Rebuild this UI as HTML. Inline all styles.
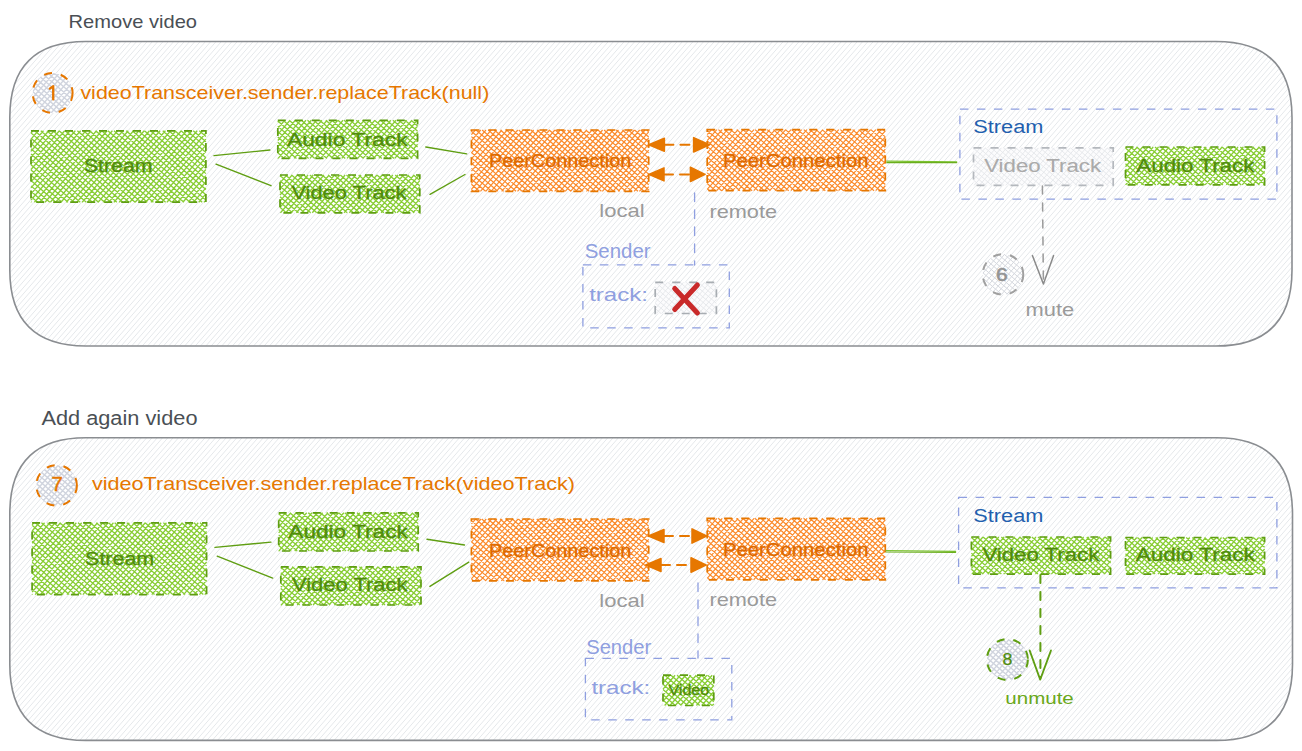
<!DOCTYPE html>
<html><head><meta charset="utf-8"><style>
html,body{margin:0;padding:0;background:#ffffff;width:1302px;height:751px;overflow:hidden;}
svg{display:block;font-family:"Liberation Sans", sans-serif;}
</style></head><body>
<svg width="1302" height="751" viewBox="0 0 1302 751">

<defs><clipPath id="cl0"><path d="M85.80 41.50 L1216.00 41.50 Q1292.00 41.50 1292.00 117.50 L1292.00 270.00 Q1292.00 346.00 1216.00 346.00 L85.80 346.00 Q9.80 346.00 9.80 270.00 L9.80 117.50 Q9.80 41.50 85.80 41.50 Z"/></clipPath><clipPath id="cl1"><circle cx="52.6" cy="93" r="20"/></clipPath><clipPath id="cl2"><circle cx="1003" cy="274.4" r="20.3"/></clipPath><clipPath id="cl3"><path d="M85.80 437.80 L1216.50 437.80 Q1292.50 437.80 1292.50 513.80 L1292.50 664.40 Q1292.50 740.40 1216.50 740.40 L85.80 740.40 Q9.80 740.40 9.80 664.40 L9.80 513.80 Q9.80 437.80 85.80 437.80 Z"/></clipPath><clipPath id="cl4"><circle cx="56.6" cy="485.4" r="20.3"/></clipPath><clipPath id="cl5"><circle cx="1007.4" cy="659.6" r="20.5"/></clipPath></defs>
<text x="68.6" y="27.5" font-size="19" fill="#4a4f55" font-weight="normal" textLength="128.4" lengthAdjust="spacingAndGlyphs">Remove video</text>
<rect x="9.8" y="41.5" width="1282.2" height="304.5" fill="#ffffff" clip-path="url(#cl0)"/>
<path d="M9.80 47.18L14.74 41.50M9.80 53.28L20.04 41.50M9.80 59.38L25.34 41.50M9.80 65.48L30.64 41.50M9.80 71.57L35.94 41.50M9.80 77.67L41.24 41.50M9.80 83.77L46.54 41.50M9.80 89.86L51.84 41.50M9.80 95.96L57.14 41.50M9.80 102.06L62.44 41.50M9.80 108.15L67.74 41.50M9.80 114.25L73.04 41.50M9.80 120.35L78.34 41.50M9.80 126.45L83.64 41.50M9.80 132.54L88.94 41.50M9.80 138.64L94.24 41.50M9.80 144.74L99.54 41.50M9.80 150.83L104.84 41.50M9.80 156.93L110.14 41.50M9.80 163.03L115.44 41.50M9.80 169.12L120.74 41.50M9.80 175.22L126.04 41.50M9.80 181.32L131.34 41.50M9.80 187.42L136.64 41.50M9.80 193.51L141.94 41.50M9.80 199.61L147.24 41.50M9.80 205.71L152.54 41.50M9.80 211.80L157.84 41.50M9.80 217.90L163.14 41.50M9.80 224.00L168.44 41.50M9.80 230.09L173.74 41.50M9.80 236.19L179.04 41.50M9.80 242.29L184.34 41.50M9.80 248.39L189.64 41.50M9.80 254.48L194.94 41.50M9.80 260.58L200.24 41.50M9.80 266.68L205.54 41.50M9.80 272.77L210.84 41.50M9.80 278.87L216.14 41.50M9.80 284.97L221.44 41.50M9.80 291.06L226.74 41.50M9.80 297.16L232.04 41.50M9.80 303.26L237.34 41.50M9.80 309.36L242.64 41.50M9.80 315.45L247.94 41.50M9.80 321.55L253.24 41.50M9.80 327.65L258.54 41.50M9.80 333.74L263.84 41.50M9.80 339.84L269.14 41.50M9.80 345.94L274.44 41.50M15.05 346.00L279.74 41.50M20.35 346.00L285.04 41.50M25.65 346.00L290.34 41.50M30.95 346.00L295.64 41.50M36.25 346.00L300.94 41.50M41.55 346.00L306.24 41.50M46.85 346.00L311.54 41.50M52.15 346.00L316.84 41.50M57.45 346.00L322.14 41.50M62.75 346.00L327.44 41.50M68.05 346.00L332.74 41.50M73.35 346.00L338.04 41.50M78.65 346.00L343.34 41.50M83.95 346.00L348.64 41.50M89.25 346.00L353.94 41.50M94.55 346.00L359.24 41.50M99.85 346.00L364.54 41.50M105.15 346.00L369.84 41.50M110.45 346.00L375.14 41.50M115.75 346.00L380.44 41.50M121.05 346.00L385.75 41.50M126.35 346.00L391.05 41.50M131.65 346.00L396.35 41.50M136.95 346.00L401.65 41.50M142.25 346.00L406.95 41.50M147.55 346.00L412.25 41.50M152.85 346.00L417.55 41.50M158.15 346.00L422.85 41.50M163.45 346.00L428.15 41.50M168.75 346.00L433.45 41.50M174.05 346.00L438.75 41.50M179.35 346.00L444.05 41.50M184.65 346.00L449.35 41.50M189.95 346.00L454.65 41.50M195.25 346.00L459.95 41.50M200.55 346.00L465.25 41.50M205.85 346.00L470.55 41.50M211.15 346.00L475.85 41.50M216.45 346.00L481.15 41.50M221.75 346.00L486.45 41.50M227.05 346.00L491.75 41.50M232.35 346.00L497.05 41.50M237.65 346.00L502.35 41.50M242.95 346.00L507.65 41.50M248.25 346.00L512.95 41.50M253.55 346.00L518.25 41.50M258.85 346.00L523.55 41.50M264.15 346.00L528.85 41.50M269.45 346.00L534.15 41.50M274.75 346.00L539.45 41.50M280.05 346.00L544.75 41.50M285.35 346.00L550.05 41.50M290.65 346.00L555.35 41.50M295.95 346.00L560.65 41.50M301.25 346.00L565.95 41.50M306.55 346.00L571.25 41.50M311.85 346.00L576.55 41.50M317.15 346.00L581.85 41.50M322.45 346.00L587.15 41.50M327.75 346.00L592.45 41.50M333.05 346.00L597.75 41.50M338.35 346.00L603.05 41.50M343.65 346.00L608.35 41.50M348.95 346.00L613.65 41.50M354.25 346.00L618.95 41.50M359.55 346.00L624.25 41.50M364.85 346.00L629.55 41.50M370.15 346.00L634.85 41.50M375.45 346.00L640.15 41.50M380.75 346.00L645.45 41.50M386.05 346.00L650.75 41.50M391.35 346.00L656.05 41.50M396.65 346.00L661.35 41.50M401.95 346.00L666.65 41.50M407.25 346.00L671.95 41.50M412.55 346.00L677.25 41.50M417.85 346.00L682.55 41.50M423.15 346.00L687.85 41.50M428.45 346.00L693.15 41.50M433.75 346.00L698.45 41.50M439.05 346.00L703.75 41.50M444.35 346.00L709.05 41.50M449.65 346.00L714.35 41.50M454.95 346.00L719.65 41.50M460.25 346.00L724.95 41.50M465.55 346.00L730.25 41.50M470.85 346.00L735.55 41.50M476.15 346.00L740.85 41.50M481.45 346.00L746.15 41.50M486.75 346.00L751.45 41.50M492.05 346.00L756.75 41.50M497.35 346.00L762.05 41.50M502.65 346.00L767.35 41.50M507.95 346.00L772.65 41.50M513.25 346.00L777.95 41.50M518.55 346.00L783.25 41.50M523.85 346.00L788.55 41.50M529.15 346.00L793.85 41.50M534.45 346.00L799.15 41.50M539.75 346.00L804.45 41.50M545.05 346.00L809.75 41.50M550.35 346.00L815.05 41.50M555.65 346.00L820.35 41.50M560.95 346.00L825.65 41.50M566.25 346.00L830.95 41.50M571.55 346.00L836.25 41.50M576.85 346.00L841.55 41.50M582.15 346.00L846.85 41.50M587.45 346.00L852.15 41.50M592.75 346.00L857.45 41.50M598.05 346.00L862.75 41.50M603.35 346.00L868.05 41.50M608.65 346.00L873.35 41.50M613.95 346.00L878.65 41.50M619.25 346.00L883.95 41.50M624.55 346.00L889.25 41.50M629.85 346.00L894.55 41.50M635.15 346.00L899.85 41.50M640.45 346.00L905.15 41.50M645.75 346.00L910.45 41.50M651.05 346.00L915.75 41.50M656.35 346.00L921.05 41.50M661.65 346.00L926.35 41.50M666.95 346.00L931.65 41.50M672.25 346.00L936.95 41.50M677.55 346.00L942.25 41.50M682.85 346.00L947.55 41.50M688.15 346.00L952.85 41.50M693.45 346.00L958.15 41.50M698.75 346.00L963.45 41.50M704.05 346.00L968.75 41.50M709.35 346.00L974.05 41.50M714.65 346.00L979.35 41.50M719.95 346.00L984.65 41.50M725.25 346.00L989.95 41.50M730.55 346.00L995.25 41.50M735.85 346.00L1000.55 41.50M741.15 346.00L1005.85 41.50M746.45 346.00L1011.15 41.50M751.75 346.00L1016.45 41.50M757.05 346.00L1021.75 41.50M762.35 346.00L1027.05 41.50M767.65 346.00L1032.35 41.50M772.95 346.00L1037.65 41.50M778.25 346.00L1042.95 41.50M783.55 346.00L1048.25 41.50M788.85 346.00L1053.55 41.50M794.15 346.00L1058.85 41.50M799.45 346.00L1064.15 41.50M804.75 346.00L1069.45 41.50M810.05 346.00L1074.75 41.50M815.35 346.00L1080.05 41.50M820.65 346.00L1085.35 41.50M825.95 346.00L1090.65 41.50M831.25 346.00L1095.95 41.50M836.55 346.00L1101.25 41.50M841.85 346.00L1106.55 41.50M847.15 346.00L1111.85 41.50M852.45 346.00L1117.15 41.50M857.75 346.00L1122.45 41.50M863.05 346.00L1127.75 41.50M868.35 346.00L1133.05 41.50M873.65 346.00L1138.35 41.50M878.95 346.00L1143.65 41.50M884.25 346.00L1148.95 41.50M889.55 346.00L1154.25 41.50M894.85 346.00L1159.55 41.50M900.15 346.00L1164.85 41.50M905.45 346.00L1170.15 41.50M910.75 346.00L1175.45 41.50M916.05 346.00L1180.75 41.50M921.36 346.00L1186.05 41.50M926.66 346.00L1191.35 41.50M931.96 346.00L1196.65 41.50M937.26 346.00L1201.95 41.50M942.56 346.00L1207.25 41.50M947.86 346.00L1212.55 41.50M953.16 346.00L1217.85 41.50M958.46 346.00L1223.15 41.50M963.76 346.00L1228.45 41.50M969.06 346.00L1233.75 41.50M974.36 346.00L1239.05 41.50M979.66 346.00L1244.35 41.50M984.96 346.00L1249.65 41.50M990.26 346.00L1254.95 41.50M995.56 346.00L1260.25 41.50M1000.86 346.00L1265.55 41.50M1006.16 346.00L1270.85 41.50M1011.46 346.00L1276.15 41.50M1016.76 346.00L1281.45 41.50M1022.06 346.00L1286.75 41.50M1027.36 346.00L1292.00 41.56M1032.66 346.00L1292.00 47.66M1037.96 346.00L1292.00 53.76M1043.26 346.00L1292.00 59.85M1048.56 346.00L1292.00 65.95M1053.86 346.00L1292.00 72.05M1059.16 346.00L1292.00 78.14M1064.46 346.00L1292.00 84.24M1069.76 346.00L1292.00 90.34M1075.06 346.00L1292.00 96.44M1080.36 346.00L1292.00 102.53M1085.66 346.00L1292.00 108.63M1090.96 346.00L1292.00 114.73M1096.26 346.00L1292.00 120.82M1101.56 346.00L1292.00 126.92M1106.86 346.00L1292.00 133.02M1112.16 346.00L1292.00 139.11M1117.46 346.00L1292.00 145.21M1122.76 346.00L1292.00 151.31M1128.06 346.00L1292.00 157.41M1133.36 346.00L1292.00 163.50M1138.66 346.00L1292.00 169.60M1143.96 346.00L1292.00 175.70M1149.26 346.00L1292.00 181.79M1154.56 346.00L1292.00 187.89M1159.86 346.00L1292.00 193.99M1165.16 346.00L1292.00 200.08M1170.46 346.00L1292.00 206.18M1175.76 346.00L1292.00 212.28M1181.06 346.00L1292.00 218.38M1186.36 346.00L1292.00 224.47M1191.66 346.00L1292.00 230.57M1196.96 346.00L1292.00 236.67M1202.26 346.00L1292.00 242.76M1207.56 346.00L1292.00 248.86M1212.86 346.00L1292.00 254.96M1218.16 346.00L1292.00 261.05M1223.46 346.00L1292.00 267.15M1228.76 346.00L1292.00 273.25M1234.06 346.00L1292.00 279.35M1239.36 346.00L1292.00 285.44M1244.66 346.00L1292.00 291.54M1249.96 346.00L1292.00 297.64M1255.26 346.00L1292.00 303.73M1260.56 346.00L1292.00 309.83M1265.86 346.00L1292.00 315.93M1271.16 346.00L1292.00 322.02M1276.46 346.00L1292.00 328.12M1281.76 346.00L1292.00 334.22M1287.06 346.00L1292.00 340.32" stroke="#e5e8eb" stroke-width="1.0" fill="none" clip-path="url(#cl0)"/>
<path d="M85.80 41.50 L1216.00 41.50 Q1292.00 41.50 1292.00 117.50 L1292.00 270.00 Q1292.00 346.00 1216.00 346.00 L85.80 346.00 Q9.80 346.00 9.80 270.00 L9.80 117.50 Q9.80 41.50 85.80 41.50 Z" fill="none" stroke="#8a8d91" stroke-width="1.6"/>
<rect x="32.6" y="73.0" width="40.0" height="40.0" fill="#ffffff" clip-path="url(#cl1)"/>
<path d="M32.60 73.33L32.89 73.00M32.60 79.43L38.19 73.00M32.60 85.52L43.49 73.00M32.60 91.62L48.79 73.00M32.60 97.72L54.09 73.00M32.60 103.81L59.39 73.00M32.60 109.91L64.69 73.00M35.21 113.00L69.99 73.00M40.51 113.00L72.60 76.09M45.81 113.00L72.60 82.19M51.11 113.00L72.60 88.28M56.41 113.00L72.60 94.38M61.71 113.00L72.60 100.48M67.01 113.00L72.60 106.57M72.31 113.00L72.60 112.67M72.27 73.00L72.60 73.29M66.17 73.00L72.60 78.59M60.08 73.00L72.60 83.89M53.98 73.00L72.60 89.19M47.88 73.00L72.60 94.49M41.79 73.00L72.60 99.79M35.69 73.00L72.60 105.09M32.60 75.61L72.60 110.39M32.60 80.91L69.51 113.00M32.60 86.21L63.41 113.00M32.60 91.51L57.32 113.00M32.60 96.81L51.22 113.00M32.60 102.11L45.12 113.00M32.60 107.41L39.03 113.00M32.60 112.71L32.93 113.00" stroke="#d0d4de" stroke-width="1.4" fill="none" clip-path="url(#cl1)"/>
<circle cx="52.6" cy="93" r="20" fill="none" stroke="#e67700" stroke-width="2" stroke-dasharray="8 9"/>
<path d="M49.8,88.6 L53.2,86.2 L53.2,99.4" fill="none" stroke="#e67700" stroke-width="2.3" stroke-linecap="round" stroke-linejoin="round"/>
<text x="80.4" y="98.6" font-size="19" fill="#e67700" font-weight="normal" textLength="408.9" lengthAdjust="spacingAndGlyphs">videoTransceiver.sender.replaceTrack(null)</text>
<rect x="31.0" y="130.8" width="174.9" height="71.4" fill="#ffffff"/>
<path d="M31.00 132.97L32.88 130.80M31.00 139.06L38.18 130.80M31.00 145.16L43.48 130.80M31.00 151.26L48.78 130.80M31.00 157.35L54.08 130.80M31.00 163.45L59.38 130.80M31.00 169.55L64.68 130.80M31.00 175.64L69.98 130.80M31.00 181.74L75.28 130.80M31.00 187.84L80.58 130.80M31.00 193.94L85.88 130.80M31.00 200.03L91.18 130.80M34.42 202.20L96.48 130.80M39.72 202.20L101.78 130.80M45.02 202.20L107.08 130.80M50.32 202.20L112.38 130.80M55.62 202.20L117.68 130.80M60.92 202.20L122.98 130.80M66.22 202.20L128.28 130.80M71.52 202.20L133.58 130.80M76.82 202.20L138.88 130.80M82.12 202.20L144.18 130.80M87.42 202.20L149.48 130.80M92.72 202.20L154.78 130.80M98.02 202.20L160.08 130.80M103.32 202.20L165.38 130.80M108.62 202.20L170.68 130.80M113.92 202.20L175.98 130.80M119.22 202.20L181.28 130.80M124.52 202.20L186.58 130.80M129.82 202.20L191.88 130.80M135.12 202.20L197.18 130.80M140.42 202.20L202.48 130.80M145.72 202.20L205.90 132.97M151.02 202.20L205.90 139.06M156.32 202.20L205.90 145.16M161.62 202.20L205.90 151.26M166.92 202.20L205.90 157.36M172.22 202.20L205.90 163.45M177.52 202.20L205.90 169.55M182.82 202.20L205.90 175.65M188.12 202.20L205.90 181.74M193.42 202.20L205.90 187.84M198.72 202.20L205.90 193.94M204.02 202.20L205.90 200.03M205.42 130.80L205.90 131.22M199.32 130.80L205.90 136.52M193.23 130.80L205.90 141.82M187.13 130.80L205.90 147.12M181.03 130.80L205.90 152.42M174.93 130.80L205.90 157.72M168.84 130.80L205.90 163.02M162.74 130.80L205.90 168.32M156.64 130.80L205.90 173.62M150.55 130.80L205.90 178.92M144.45 130.80L205.90 184.22M138.35 130.80L205.90 189.52M132.25 130.80L205.90 194.82M126.16 130.80L205.90 200.12M120.06 130.80L202.20 202.20M113.96 130.80L196.10 202.20M107.87 130.80L190.00 202.20M101.77 130.80L183.91 202.20M95.67 130.80L177.81 202.20M89.58 130.80L171.71 202.20M83.48 130.80L165.62 202.20M77.38 130.80L159.52 202.20M71.28 130.80L153.42 202.20M65.19 130.80L147.32 202.20M59.09 130.80L141.23 202.20M52.99 130.80L135.13 202.20M46.90 130.80L129.03 202.20M40.80 130.80L122.94 202.20M34.70 130.80L116.84 202.20M31.00 132.88L110.74 202.20M31.00 138.18L104.65 202.20M31.00 143.48L98.55 202.20M31.00 148.78L92.45 202.20M31.00 154.08L86.35 202.20M31.00 159.38L80.26 202.20M31.00 164.68L74.16 202.20M31.00 169.98L68.06 202.20M31.00 175.28L61.97 202.20M31.00 180.58L55.87 202.20M31.00 185.88L49.77 202.20M31.00 191.18L43.67 202.20M31.00 196.48L37.58 202.20M31.00 201.78L31.48 202.20" stroke="#88cd34" stroke-width="1.3" fill="none"/>
<rect x="31.0" y="130.8" width="174.9" height="71.4" fill="none" stroke="#5f9e12" stroke-width="1.7" stroke-dasharray="8 9"/>
<text x="83.9" y="171.5" font-size="18" fill="#4f8c0b" font-weight="normal" textLength="68.7" lengthAdjust="spacingAndGlyphs" stroke="#4f8c0b" stroke-width="0.3">Stream</text>
<rect x="277.8" y="120.3" width="139.8" height="38.1" fill="#ffffff"/>
<path d="M277.80 122.21L279.46 120.30M277.80 128.31L284.76 120.30M277.80 134.40L290.06 120.30M277.80 140.50L295.36 120.30M277.80 146.60L300.66 120.30M277.80 152.69L305.96 120.30M278.14 158.40L311.26 120.30M283.44 158.40L316.56 120.30M288.74 158.40L321.86 120.30M294.04 158.40L327.16 120.30M299.34 158.40L332.46 120.30M304.64 158.40L337.76 120.30M309.94 158.40L343.06 120.30M315.24 158.40L348.36 120.30M320.54 158.40L353.66 120.30M325.84 158.40L358.96 120.30M331.14 158.40L364.26 120.30M336.44 158.40L369.56 120.30M341.74 158.40L374.86 120.30M347.04 158.40L380.16 120.30M352.34 158.40L385.46 120.30M357.64 158.40L390.76 120.30M362.94 158.40L396.06 120.30M368.24 158.40L401.36 120.30M373.54 158.40L406.66 120.30M378.84 158.40L411.96 120.30M384.14 158.40L417.26 120.30M389.44 158.40L417.60 126.01M394.74 158.40L417.60 132.10M400.04 158.40L417.60 138.20M405.34 158.40L417.60 144.30M410.64 158.40L417.60 150.39M415.94 158.40L417.60 156.49M417.24 120.30L417.60 120.61M411.14 120.30L417.60 125.91M405.05 120.30L417.60 131.21M398.95 120.30L417.60 136.51M392.85 120.30L417.60 141.81M386.76 120.30L417.60 147.11M380.66 120.30L417.60 152.41M374.56 120.30L417.60 157.71M368.46 120.30L412.29 158.40M362.37 120.30L406.20 158.40M356.27 120.30L400.10 158.40M350.17 120.30L394.00 158.40M344.08 120.30L387.91 158.40M337.98 120.30L381.81 158.40M331.88 120.30L375.71 158.40M325.79 120.30L369.61 158.40M319.69 120.30L363.52 158.40M313.59 120.30L357.42 158.40M307.49 120.30L351.32 158.40M301.40 120.30L345.23 158.40M295.30 120.30L339.13 158.40M289.20 120.30L333.03 158.40M283.11 120.30L326.94 158.40M277.80 120.99L320.84 158.40M277.80 126.29L314.74 158.40M277.80 131.59L308.64 158.40M277.80 136.89L302.55 158.40M277.80 142.19L296.45 158.40M277.80 147.49L290.35 158.40M277.80 152.79L284.26 158.40M277.80 158.09L278.16 158.40" stroke="#88cd34" stroke-width="1.3" fill="none"/>
<rect x="277.8" y="120.3" width="139.8" height="38.1" fill="none" stroke="#5f9e12" stroke-width="1.7" stroke-dasharray="8 9"/>
<text x="286.9" y="145.5" font-size="18" fill="#4f8c0b" font-weight="normal" textLength="120.7" lengthAdjust="spacingAndGlyphs" stroke="#4f8c0b" stroke-width="0.3">Audio Track</text>
<rect x="280.0" y="175.0" width="139.8" height="37.8" fill="#ffffff"/>
<path d="M280.00 176.76L281.53 175.00M280.00 182.86L286.83 175.00M280.00 188.95L292.13 175.00M280.00 195.05L297.43 175.00M280.00 201.15L302.73 175.00M280.00 207.24L308.03 175.00M280.47 212.80L313.33 175.00M285.77 212.80L318.63 175.00M291.07 212.80L323.93 175.00M296.37 212.80L329.23 175.00M301.67 212.80L334.53 175.00M306.97 212.80L339.83 175.00M312.27 212.80L345.13 175.00M317.57 212.80L350.43 175.00M322.87 212.80L355.73 175.00M328.17 212.80L361.03 175.00M333.47 212.80L366.33 175.00M338.77 212.80L371.63 175.00M344.07 212.80L376.93 175.00M349.37 212.80L382.23 175.00M354.67 212.80L387.53 175.00M359.97 212.80L392.83 175.00M365.27 212.80L398.13 175.00M370.57 212.80L403.43 175.00M375.87 212.80L408.73 175.00M381.17 212.80L414.03 175.00M386.47 212.80L419.33 175.00M391.77 212.80L419.80 180.56M397.07 212.80L419.80 186.65M402.37 212.80L419.80 192.75M407.67 212.80L419.80 198.85M412.97 212.80L419.80 204.94M418.27 212.80L419.80 211.04M419.61 175.00L419.80 175.16M413.52 175.00L419.80 180.46M407.42 175.00L419.80 185.76M401.32 175.00L419.80 191.06M395.23 175.00L419.80 196.36M389.13 175.00L419.80 201.66M383.03 175.00L419.80 206.96M376.93 175.00L419.80 212.26M370.84 175.00L414.32 212.80M364.74 175.00L408.22 212.80M358.64 175.00L402.13 212.80M352.55 175.00L396.03 212.80M346.45 175.00L389.93 212.80M340.35 175.00L383.84 212.80M334.26 175.00L377.74 212.80M328.16 175.00L371.64 212.80M322.06 175.00L365.54 212.80M315.96 175.00L359.45 212.80M309.87 175.00L353.35 212.80M303.77 175.00L347.25 212.80M297.67 175.00L341.16 212.80M291.58 175.00L335.06 212.80M285.48 175.00L328.96 212.80M280.00 175.54L322.87 212.80M280.00 180.84L316.77 212.80M280.00 186.14L310.67 212.80M280.00 191.44L304.57 212.80M280.00 196.74L298.48 212.80M280.00 202.04L292.38 212.80M280.00 207.34L286.28 212.80M280.00 212.64L280.19 212.80" stroke="#88cd34" stroke-width="1.3" fill="none"/>
<rect x="280.0" y="175.0" width="139.8" height="37.8" fill="none" stroke="#5f9e12" stroke-width="1.7" stroke-dasharray="8 9"/>
<text x="291.4" y="199.2" font-size="18" fill="#4f8c0b" font-weight="normal" textLength="115.1" lengthAdjust="spacingAndGlyphs" stroke="#4f8c0b" stroke-width="0.3">Video Track</text>
<line x1="214.0" y1="155.6" x2="269.9" y2="150.0" stroke="#5f9e12" stroke-width="1.4" stroke-linecap="round"/>
<line x1="216.0" y1="164.2" x2="271.0" y2="185.7" stroke="#5f9e12" stroke-width="1.4" stroke-linecap="round"/>
<line x1="425.8" y1="147.0" x2="466.7" y2="153.9" stroke="#5f9e12" stroke-width="1.4" stroke-linecap="round"/>
<line x1="430.0" y1="194.3" x2="465.0" y2="174.5" stroke="#5f9e12" stroke-width="1.4" stroke-linecap="round"/>
<rect x="471.4" y="130.0" width="177.3" height="61.3" fill="#ffffff"/>
<path d="M471.40 134.59L475.39 130.00M471.40 140.69L480.69 130.00M471.40 146.79L485.99 130.00M471.40 152.88L491.29 130.00M471.40 158.98L496.59 130.00M471.40 165.08L501.89 130.00M471.40 171.17L507.19 130.00M471.40 177.27L512.49 130.00M471.40 183.37L517.79 130.00M471.40 189.47L523.09 130.00M475.11 191.30L528.39 130.00M480.41 191.30L533.69 130.00M485.71 191.30L538.99 130.00M491.01 191.30L544.29 130.00M496.31 191.30L549.59 130.00M501.61 191.30L554.89 130.00M506.91 191.30L560.19 130.00M512.21 191.30L565.49 130.00M517.51 191.30L570.79 130.00M522.81 191.30L576.09 130.00M528.11 191.30L581.39 130.00M533.41 191.30L586.69 130.00M538.71 191.30L591.99 130.00M544.01 191.30L597.29 130.00M549.31 191.30L602.59 130.00M554.61 191.30L607.89 130.00M559.91 191.30L613.19 130.00M565.21 191.30L618.49 130.00M570.51 191.30L623.79 130.00M575.81 191.30L629.09 130.00M581.11 191.30L634.39 130.00M586.41 191.30L639.69 130.00M591.71 191.30L644.99 130.00M597.01 191.30L648.70 131.83M602.31 191.30L648.70 137.93M607.61 191.30L648.70 144.03M612.91 191.30L648.70 150.13M618.21 191.30L648.70 156.22M623.51 191.30L648.70 162.32M628.81 191.30L648.70 168.42M634.11 191.30L648.70 174.51M639.41 191.30L648.70 180.61M644.71 191.30L648.70 186.71M646.73 130.00L648.70 131.71M640.63 130.00L648.70 137.01M634.54 130.00L648.70 142.31M628.44 130.00L648.70 147.61M622.34 130.00L648.70 152.91M616.25 130.00L648.70 158.21M610.15 130.00L648.70 163.51M604.05 130.00L648.70 168.81M597.96 130.00L648.70 174.11M591.86 130.00L648.70 179.41M585.76 130.00L648.70 184.71M579.66 130.00L648.70 190.01M573.57 130.00L644.08 191.30M567.47 130.00L637.99 191.30M561.37 130.00L631.89 191.30M555.28 130.00L625.79 191.30M549.18 130.00L619.70 191.30M543.08 130.00L613.60 191.30M536.99 130.00L607.50 191.30M530.89 130.00L601.41 191.30M524.79 130.00L595.31 191.30M518.69 130.00L589.21 191.30M512.60 130.00L583.11 191.30M506.50 130.00L577.02 191.30M500.40 130.00L570.92 191.30M494.31 130.00L564.82 191.30M488.21 130.00L558.73 191.30M482.11 130.00L552.63 191.30M476.02 130.00L546.53 191.30M471.40 131.29L540.44 191.30M471.40 136.59L534.34 191.30M471.40 141.89L528.24 191.30M471.40 147.19L522.14 191.30M471.40 152.49L516.05 191.30M471.40 157.79L509.95 191.30M471.40 163.09L503.85 191.30M471.40 168.39L497.76 191.30M471.40 173.69L491.66 191.30M471.40 178.99L485.56 191.30M471.40 184.29L479.47 191.30M471.40 189.59L473.37 191.30" stroke="#fb8b2c" stroke-width="1.2" fill="none"/>
<rect x="471.4" y="130.0" width="177.3" height="61.3" fill="none" stroke="#e67700" stroke-width="1.7" stroke-dasharray="8 9"/>
<text x="488.9" y="166.5" font-size="18.5" fill="#de6a00" font-weight="normal" textLength="142.4" lengthAdjust="spacingAndGlyphs" stroke="#de6a00" stroke-width="0.3">PeerConnection</text>
<rect x="707.2" y="129.6" width="178.1" height="61.1" fill="#ffffff"/>
<path d="M707.20 134.55L711.51 129.60M707.20 140.65L716.81 129.60M707.20 146.75L722.11 129.60M707.20 152.84L727.41 129.60M707.20 158.94L732.71 129.60M707.20 165.04L738.01 129.60M707.20 171.14L743.31 129.60M707.20 177.23L748.61 129.60M707.20 183.33L753.91 129.60M707.20 189.43L759.21 129.60M711.39 190.70L764.51 129.60M716.69 190.70L769.81 129.60M721.99 190.70L775.11 129.60M727.29 190.70L780.41 129.60M732.59 190.70L785.71 129.60M737.89 190.70L791.01 129.60M743.19 190.70L796.31 129.60M748.49 190.70L801.61 129.60M753.79 190.70L806.91 129.60M759.09 190.70L812.21 129.60M764.39 190.70L817.51 129.60M769.69 190.70L822.81 129.60M774.99 190.70L828.11 129.60M780.29 190.70L833.41 129.60M785.59 190.70L838.71 129.60M790.89 190.70L844.01 129.60M796.19 190.70L849.31 129.60M801.49 190.70L854.61 129.60M806.79 190.70L859.91 129.60M812.09 190.70L865.21 129.60M817.39 190.70L870.51 129.60M822.69 190.70L875.81 129.60M827.99 190.70L881.11 129.60M833.29 190.70L885.30 130.87M838.59 190.70L885.30 136.97M843.89 190.70L885.30 143.07M849.19 190.70L885.30 149.16M854.49 190.70L885.30 155.26M859.79 190.70L885.30 161.36M865.09 190.70L885.30 167.46M870.39 190.70L885.30 173.55M875.69 190.70L885.30 179.65M880.99 190.70L885.30 185.75M883.05 129.60L885.30 131.56M876.95 129.60L885.30 136.86M870.85 129.60L885.30 142.16M864.76 129.60L885.30 147.46M858.66 129.60L885.30 152.76M852.56 129.60L885.30 158.06M846.46 129.60L885.30 163.36M840.37 129.60L885.30 168.66M834.27 129.60L885.30 173.96M828.17 129.60L885.30 179.26M822.08 129.60L885.30 184.56M815.98 129.60L885.30 189.86M809.88 129.60L880.17 190.70M803.79 129.60L874.07 190.70M797.69 129.60L867.98 190.70M791.59 129.60L861.88 190.70M785.49 129.60L855.78 190.70M779.40 129.60L849.68 190.70M773.30 129.60L843.59 190.70M767.20 129.60L837.49 190.70M761.11 129.60L831.39 190.70M755.01 129.60L825.30 190.70M748.91 129.60L819.20 190.70M742.82 129.60L813.10 190.70M736.72 129.60L807.01 190.70M730.62 129.60L800.91 190.70M724.52 129.60L794.81 190.70M718.43 129.60L788.71 190.70M712.33 129.60L782.62 190.70M707.20 130.44L776.52 190.70M707.20 135.74L770.42 190.70M707.20 141.04L764.33 190.70M707.20 146.34L758.23 190.70M707.20 151.64L752.13 190.70M707.20 156.94L746.04 190.70M707.20 162.24L739.94 190.70M707.20 167.54L733.84 190.70M707.20 172.84L727.74 190.70M707.20 178.14L721.65 190.70M707.20 183.44L715.55 190.70M707.20 188.74L709.45 190.70" stroke="#fb8b2c" stroke-width="1.2" fill="none"/>
<rect x="707.2" y="129.6" width="178.1" height="61.1" fill="none" stroke="#e67700" stroke-width="1.7" stroke-dasharray="8 9"/>
<text x="723.0" y="166.6" font-size="18.5" fill="#de6a00" font-weight="normal" textLength="145.5" lengthAdjust="spacingAndGlyphs" stroke="#de6a00" stroke-width="0.3">PeerConnection</text>
<line x1="664.4" y1="144.8" x2="693.6" y2="144.8" stroke="#e67700" stroke-width="2" stroke-linecap="round" stroke-dasharray="9 7"/>
<path d="M648.8,144.8 L664.4,138.3 L664.4,151.3 Z" fill="#e67700" stroke="#e67700" stroke-width="1.5" stroke-linejoin="round"/>
<path d="M709.5,144.8 L693.6,137.6 L693.6,152.0 Z" fill="#e67700" stroke="#e67700" stroke-width="1.5" stroke-linejoin="round"/>
<line x1="664.0" y1="174.4" x2="690.4" y2="174.4" stroke="#e67700" stroke-width="2" stroke-linecap="round" stroke-dasharray="9 7"/>
<path d="M648.8,174.4 L664.0,167.9 L664.0,180.9 Z" fill="#e67700" stroke="#e67700" stroke-width="1.5" stroke-linejoin="round"/>
<path d="M705.1,174.4 L690.4,167.2 L690.4,181.6 Z" fill="#e67700" stroke="#e67700" stroke-width="1.5" stroke-linejoin="round"/>
<text x="599.3" y="216.8" font-size="19" fill="#9a9a9a" font-weight="normal" textLength="45.3" lengthAdjust="spacingAndGlyphs">local</text>
<text x="709.4" y="217.8" font-size="19" fill="#9a9a9a" font-weight="normal" textLength="67.7" lengthAdjust="spacingAndGlyphs">remote</text>
<line x1="694.6" y1="193.0" x2="694.6" y2="265.0" stroke="#8f9fe0" stroke-width="1.3" stroke-linecap="round" stroke-dasharray="8.5 8.5"/>
<line x1="886.8" y1="161.2" x2="956.7" y2="161.9" stroke="#7cc230" stroke-width="1.2" stroke-linecap="round"/>
<line x1="886.8" y1="162.7" x2="956.7" y2="162.6" stroke="#6aae1c" stroke-width="1.2" stroke-linecap="round"/>
<rect x="959.9" y="109.2" width="317.0" height="90.0" fill="none" stroke="#8f9fe0" stroke-width="1.3" stroke-dasharray="8.5 8.5"/>
<text x="973.3" y="133.4" font-size="18" fill="#1f5fae" font-weight="normal" textLength="70.1" lengthAdjust="spacingAndGlyphs">Stream</text>
<rect x="973.5" y="147.8" width="139.7" height="37.6" fill="#fcfcfd"/>
<path d="M973.50 149.40L974.89 147.80M973.50 155.50L980.19 147.80M973.50 161.60L985.49 147.80M973.50 167.69L990.79 147.80M973.50 173.79L996.09 147.80M973.50 179.89L1001.39 147.80M974.01 185.40L1006.69 147.80M979.31 185.40L1011.99 147.80M984.61 185.40L1017.29 147.80M989.91 185.40L1022.59 147.80M995.21 185.40L1027.89 147.80M1000.51 185.40L1033.19 147.80M1005.81 185.40L1038.49 147.80M1011.11 185.40L1043.79 147.80M1016.41 185.40L1049.09 147.80M1021.71 185.40L1054.39 147.80M1027.01 185.40L1059.69 147.80M1032.31 185.40L1064.99 147.80M1037.61 185.40L1070.29 147.80M1042.91 185.40L1075.59 147.80M1048.21 185.40L1080.89 147.80M1053.51 185.40L1086.19 147.80M1058.81 185.40L1091.49 147.80M1064.11 185.40L1096.79 147.80M1069.41 185.40L1102.09 147.80M1074.71 185.40L1107.39 147.80M1080.01 185.40L1112.69 147.80M1085.31 185.40L1113.20 153.31M1090.61 185.40L1113.20 159.41M1095.91 185.40L1113.20 165.51M1101.21 185.40L1113.20 171.60M1106.51 185.40L1113.20 177.70M1111.81 185.40L1113.20 183.80M1113.18 147.80L1113.20 147.82M1107.08 147.80L1113.20 153.12M1100.98 147.80L1113.20 158.42M1094.89 147.80L1113.20 163.72M1088.79 147.80L1113.20 169.02M1082.69 147.80L1113.20 174.32M1076.60 147.80L1113.20 179.62M1070.50 147.80L1113.20 184.92M1064.40 147.80L1107.66 185.40M1058.31 147.80L1101.56 185.40M1052.21 147.80L1095.46 185.40M1046.11 147.80L1089.36 185.40M1040.01 147.80L1083.27 185.40M1033.92 147.80L1077.17 185.40M1027.82 147.80L1071.07 185.40M1021.72 147.80L1064.98 185.40M1015.63 147.80L1058.88 185.40M1009.53 147.80L1052.78 185.40M1003.43 147.80L1046.69 185.40M997.34 147.80L1040.59 185.40M991.24 147.80L1034.49 185.40M985.14 147.80L1028.39 185.40M979.04 147.80L1022.30 185.40M973.50 148.28L1016.20 185.40M973.50 153.58L1010.10 185.40M973.50 158.88L1004.01 185.40M973.50 164.18L997.91 185.40M973.50 169.48L991.81 185.40M973.50 174.78L985.72 185.40M973.50 180.08L979.62 185.40M973.50 185.38L973.52 185.40" stroke="#e4e6ea" stroke-width="0.9" fill="none"/>
<rect x="973.5" y="147.8" width="139.7" height="37.6" fill="none" stroke="#b4b8bd" stroke-width="1.7" stroke-dasharray="8 9"/>
<text x="984.2" y="171.8" font-size="18" fill="#aaaaaa" font-weight="normal" textLength="116.9" lengthAdjust="spacingAndGlyphs" stroke="#aaaaaa" stroke-width="0.1">Video Track</text>
<rect x="1125.5" y="147.0" width="139.1" height="37.9" fill="#ffffff"/>
<path d="M1125.50 148.41L1126.72 147.00M1125.50 154.50L1132.02 147.00M1125.50 160.60L1137.32 147.00M1125.50 166.70L1142.62 147.00M1125.50 172.79L1147.92 147.00M1125.50 178.89L1153.22 147.00M1125.58 184.90L1158.52 147.00M1130.88 184.90L1163.82 147.00M1136.18 184.90L1169.12 147.00M1141.48 184.90L1174.42 147.00M1146.78 184.90L1179.72 147.00M1152.08 184.90L1185.02 147.00M1157.38 184.90L1190.32 147.00M1162.68 184.90L1195.62 147.00M1167.98 184.90L1200.92 147.00M1173.28 184.90L1206.22 147.00M1178.58 184.90L1211.52 147.00M1183.88 184.90L1216.82 147.00M1189.18 184.90L1222.12 147.00M1194.48 184.90L1227.42 147.00M1199.78 184.90L1232.72 147.00M1205.08 184.90L1238.02 147.00M1210.38 184.90L1243.32 147.00M1215.68 184.90L1248.62 147.00M1220.98 184.90L1253.92 147.00M1226.28 184.90L1259.22 147.00M1231.58 184.90L1264.52 147.00M1236.88 184.90L1264.60 153.01M1242.18 184.90L1264.60 159.11M1247.48 184.90L1264.60 165.20M1252.78 184.90L1264.60 171.30M1258.08 184.90L1264.60 177.40M1263.38 184.90L1264.60 183.49M1258.61 147.00L1264.60 152.21M1252.51 147.00L1264.60 157.51M1246.41 147.00L1264.60 162.81M1240.32 147.00L1264.60 168.11M1234.22 147.00L1264.60 173.41M1228.12 147.00L1264.60 178.71M1222.03 147.00L1264.60 184.01M1215.93 147.00L1259.53 184.90M1209.83 147.00L1253.43 184.90M1203.74 147.00L1247.33 184.90M1197.64 147.00L1241.24 184.90M1191.54 147.00L1235.14 184.90M1185.44 147.00L1229.04 184.90M1179.35 147.00L1222.95 184.90M1173.25 147.00L1216.85 184.90M1167.15 147.00L1210.75 184.90M1161.06 147.00L1204.66 184.90M1154.96 147.00L1198.56 184.90M1148.86 147.00L1192.46 184.90M1142.77 147.00L1186.36 184.90M1136.67 147.00L1180.27 184.90M1130.57 147.00L1174.17 184.90M1125.50 147.89L1168.07 184.90M1125.50 153.19L1161.98 184.90M1125.50 158.49L1155.88 184.90M1125.50 163.79L1149.78 184.90M1125.50 169.09L1143.69 184.90M1125.50 174.39L1137.59 184.90M1125.50 179.69L1131.49 184.90" stroke="#88cd34" stroke-width="1.3" fill="none"/>
<rect x="1125.5" y="147.0" width="139.1" height="37.9" fill="none" stroke="#5f9e12" stroke-width="1.7" stroke-dasharray="8 9"/>
<text x="1136.3" y="171.8" font-size="18" fill="#4f8c0b" font-weight="normal" textLength="118.1" lengthAdjust="spacingAndGlyphs" stroke="#4f8c0b" stroke-width="0.3">Audio Track</text>
<line x1="1042.4" y1="186.0" x2="1043.4" y2="283.0" stroke="#9a9a9a" stroke-width="1.5" stroke-linecap="round" stroke-dasharray="8 9"/>
<path d="M1032.4,255.6 L1043.4,284 L1053.6,255.6" fill="none" stroke="#8a8a8a" stroke-width="1.5" stroke-linecap="round" stroke-linejoin="round"/>
<rect x="982.7" y="254.1" width="40.6" height="40.6" fill="#ffffff" clip-path="url(#cl2)"/>
<path d="M982.70 255.07L983.55 254.10M982.70 261.17L988.85 254.10M982.70 267.27L994.15 254.10M982.70 273.36L999.45 254.10M982.70 279.46L1004.75 254.10M982.70 285.56L1010.05 254.10M982.70 291.66L1015.35 254.10M985.35 294.70L1020.65 254.10M990.65 294.70L1023.30 257.14M995.95 294.70L1023.30 263.24M1001.25 294.70L1023.30 269.34M1006.55 294.70L1023.30 275.44M1011.85 294.70L1023.30 281.53M1017.15 294.70L1023.30 287.63M1022.45 294.70L1023.30 293.73M1022.33 254.10L1023.30 254.95M1016.23 254.10L1023.30 260.25M1010.13 254.10L1023.30 265.55M1004.04 254.10L1023.30 270.85M997.94 254.10L1023.30 276.15M991.84 254.10L1023.30 281.45M985.74 254.10L1023.30 286.75M982.70 256.75L1023.30 292.05M982.70 262.05L1020.26 294.70M982.70 267.35L1014.16 294.70M982.70 272.65L1008.06 294.70M982.70 277.95L1001.96 294.70M982.70 283.25L995.87 294.70M982.70 288.55L989.77 294.70M982.70 293.85L983.67 294.70" stroke="#d5d8de" stroke-width="1.0" fill="none" clip-path="url(#cl2)"/>
<circle cx="1003" cy="274.4" r="20.3" fill="none" stroke="#a0a0a0" stroke-width="2" stroke-dasharray="8 9"/>
<text x="996.1" y="281.0" font-size="19" fill="#949494" font-weight="normal" textLength="11.7" lengthAdjust="spacingAndGlyphs" stroke="#949494" stroke-width="0.6">6</text>
<text x="1025.6" y="316.0" font-size="19" fill="#9a9a9a" font-weight="normal" textLength="48.7" lengthAdjust="spacingAndGlyphs">mute</text>
<rect x="582.9" y="264.8" width="146.4" height="63.0" fill="none" stroke="#8f9fe0" stroke-width="1.3" stroke-dasharray="8.5 8.5"/>
<text x="584.7" y="257.8" font-size="20" fill="#8f9fe0" font-weight="normal" textLength="65.9" lengthAdjust="spacingAndGlyphs">Sender</text>
<text x="589.2" y="301.0" font-size="19" fill="#8f9fe0" font-weight="normal" textLength="58.8" lengthAdjust="spacingAndGlyphs">track:</text>
<rect x="655.2" y="282.4" width="61.2" height="31.1" fill="#fcfcfd"/>
<path d="M655.20 284.38L656.92 282.40M655.20 290.47L662.22 282.40M655.20 296.57L667.52 282.40M655.20 302.67L672.82 282.40M655.20 308.76L678.12 282.40M656.38 313.50L683.42 282.40M661.68 313.50L688.72 282.40M666.98 313.50L694.02 282.40M672.28 313.50L699.32 282.40M677.58 313.50L704.62 282.40M682.88 313.50L709.92 282.40M688.18 313.50L715.22 282.40M693.48 313.50L716.40 287.14M698.78 313.50L716.40 293.23M704.08 313.50L716.40 299.33M709.38 313.50L716.40 305.43M714.68 313.50L716.40 311.52M710.59 282.40L716.40 287.45M704.49 282.40L716.40 292.75M698.40 282.40L716.40 298.05M692.30 282.40L716.40 303.35M686.20 282.40L716.40 308.65M680.11 282.40L715.88 313.50M674.01 282.40L709.79 313.50M667.91 282.40L703.69 313.50M661.81 282.40L697.59 313.50M655.72 282.40L691.49 313.50M655.20 287.25L685.40 313.50M655.20 292.55L679.30 313.50M655.20 297.85L673.20 313.50M655.20 303.15L667.11 313.50M655.20 308.45L661.01 313.50" stroke="#e4e6ea" stroke-width="0.9" fill="none"/>
<rect x="655.2" y="282.4" width="61.2" height="31.1" fill="none" stroke="#a8adb2" stroke-width="1.7" stroke-dasharray="8 9"/>
<path d="M674.7,288.5 L697.4,313" stroke="#c92a2a" stroke-width="5" stroke-linecap="round" fill="none"/>
<path d="M697.4,285 L674.7,309.5" stroke="#c92a2a" stroke-width="5" stroke-linecap="round" fill="none"/>
<text x="41.4" y="425.4" font-size="20" fill="#4a4f55" font-weight="normal" textLength="156.1" lengthAdjust="spacingAndGlyphs">Add again video</text>
<rect x="9.8" y="437.8" width="1282.7" height="302.6" fill="#ffffff" clip-path="url(#cl3)"/>
<path d="M9.80 442.82L14.17 437.80M9.80 448.92L19.47 437.80M9.80 455.02L24.77 437.80M9.80 461.11L30.07 437.80M9.80 467.21L35.37 437.80M9.80 473.31L40.67 437.80M9.80 479.40L45.97 437.80M9.80 485.50L51.27 437.80M9.80 491.60L56.57 437.80M9.80 497.70L61.87 437.80M9.80 503.79L67.17 437.80M9.80 509.89L72.47 437.80M9.80 515.99L77.77 437.80M9.80 522.08L83.07 437.80M9.80 528.18L88.37 437.80M9.80 534.28L93.67 437.80M9.80 540.37L98.97 437.80M9.80 546.47L104.27 437.80M9.80 552.57L109.57 437.80M9.80 558.67L114.87 437.80M9.80 564.76L120.17 437.80M9.80 570.86L125.47 437.80M9.80 576.96L130.77 437.80M9.80 583.05L136.07 437.80M9.80 589.15L141.37 437.80M9.80 595.25L146.67 437.80M9.80 601.34L151.97 437.80M9.80 607.44L157.27 437.80M9.80 613.54L162.57 437.80M9.80 619.64L167.87 437.80M9.80 625.73L173.17 437.80M9.80 631.83L178.47 437.80M9.80 637.93L183.77 437.80M9.80 644.02L189.07 437.80M9.80 650.12L194.37 437.80M9.80 656.22L199.67 437.80M9.80 662.31L204.97 437.80M9.80 668.41L210.27 437.80M9.80 674.51L215.57 437.80M9.80 680.61L220.87 437.80M9.80 686.70L226.17 437.80M9.80 692.80L231.47 437.80M9.80 698.90L236.77 437.80M9.80 704.99L242.07 437.80M9.80 711.09L247.37 437.80M9.80 717.19L252.67 437.80M9.80 723.28L257.97 437.80M9.80 729.38L263.27 437.80M9.80 735.48L268.57 437.80M10.82 740.40L273.87 437.80M16.12 740.40L279.17 437.80M21.42 740.40L284.47 437.80M26.72 740.40L289.77 437.80M32.02 740.40L295.07 437.80M37.32 740.40L300.37 437.80M42.62 740.40L305.67 437.80M47.92 740.40L310.97 437.80M53.22 740.40L316.27 437.80M58.52 740.40L321.57 437.80M63.82 740.40L326.87 437.80M69.12 740.40L332.17 437.80M74.42 740.40L337.47 437.80M79.72 740.40L342.77 437.80M85.02 740.40L348.07 437.80M90.32 740.40L353.37 437.80M95.62 740.40L358.67 437.80M100.92 740.40L363.97 437.80M106.22 740.40L369.27 437.80M111.52 740.40L374.57 437.80M116.82 740.40L379.87 437.80M122.12 740.40L385.17 437.80M127.42 740.40L390.47 437.80M132.72 740.40L395.77 437.80M138.02 740.40L401.07 437.80M143.32 740.40L406.37 437.80M148.62 740.40L411.67 437.80M153.92 740.40L416.97 437.80M159.22 740.40L422.27 437.80M164.52 740.40L427.57 437.80M169.82 740.40L432.87 437.80M175.12 740.40L438.17 437.80M180.42 740.40L443.47 437.80M185.72 740.40L448.77 437.80M191.02 740.40L454.07 437.80M196.32 740.40L459.37 437.80M201.62 740.40L464.67 437.80M206.92 740.40L469.97 437.80M212.22 740.40L475.27 437.80M217.52 740.40L480.57 437.80M222.82 740.40L485.87 437.80M228.12 740.40L491.17 437.80M233.42 740.40L496.47 437.80M238.72 740.40L501.77 437.80M244.02 740.40L507.07 437.80M249.32 740.40L512.37 437.80M254.62 740.40L517.67 437.80M259.92 740.40L522.97 437.80M265.22 740.40L528.27 437.80M270.52 740.40L533.57 437.80M275.82 740.40L538.87 437.80M281.12 740.40L544.17 437.80M286.42 740.40L549.47 437.80M291.72 740.40L554.77 437.80M297.02 740.40L560.07 437.80M302.32 740.40L565.37 437.80M307.62 740.40L570.67 437.80M312.92 740.40L575.97 437.80M318.22 740.40L581.27 437.80M323.52 740.40L586.57 437.80M328.83 740.40L591.87 437.80M334.13 740.40L597.17 437.80M339.43 740.40L602.47 437.80M344.73 740.40L607.77 437.80M350.03 740.40L613.07 437.80M355.33 740.40L618.37 437.80M360.63 740.40L623.67 437.80M365.93 740.40L628.97 437.80M371.23 740.40L634.27 437.80M376.53 740.40L639.57 437.80M381.83 740.40L644.87 437.80M387.13 740.40L650.17 437.80M392.43 740.40L655.47 437.80M397.73 740.40L660.77 437.80M403.03 740.40L666.07 437.80M408.33 740.40L671.37 437.80M413.63 740.40L676.67 437.80M418.93 740.40L681.97 437.80M424.23 740.40L687.27 437.80M429.53 740.40L692.57 437.80M434.83 740.40L697.87 437.80M440.13 740.40L703.17 437.80M445.43 740.40L708.47 437.80M450.73 740.40L713.77 437.80M456.03 740.40L719.07 437.80M461.33 740.40L724.37 437.80M466.63 740.40L729.67 437.80M471.93 740.40L734.97 437.80M477.23 740.40L740.27 437.80M482.53 740.40L745.57 437.80M487.83 740.40L750.87 437.80M493.13 740.40L756.17 437.80M498.43 740.40L761.47 437.80M503.73 740.40L766.77 437.80M509.03 740.40L772.07 437.80M514.33 740.40L777.37 437.80M519.63 740.40L782.67 437.80M524.93 740.40L787.97 437.80M530.23 740.40L793.27 437.80M535.53 740.40L798.57 437.80M540.83 740.40L803.87 437.80M546.13 740.40L809.17 437.80M551.43 740.40L814.47 437.80M556.73 740.40L819.77 437.80M562.03 740.40L825.07 437.80M567.33 740.40L830.37 437.80M572.63 740.40L835.67 437.80M577.93 740.40L840.97 437.80M583.23 740.40L846.27 437.80M588.53 740.40L851.57 437.80M593.83 740.40L856.87 437.80M599.13 740.40L862.17 437.80M604.43 740.40L867.47 437.80M609.73 740.40L872.77 437.80M615.03 740.40L878.07 437.80M620.33 740.40L883.37 437.80M625.63 740.40L888.67 437.80M630.93 740.40L893.97 437.80M636.23 740.40L899.27 437.80M641.53 740.40L904.57 437.80M646.83 740.40L909.87 437.80M652.13 740.40L915.17 437.80M657.43 740.40L920.47 437.80M662.73 740.40L925.77 437.80M668.03 740.40L931.07 437.80M673.33 740.40L936.37 437.80M678.63 740.40L941.67 437.80M683.93 740.40L946.97 437.80M689.23 740.40L952.27 437.80M694.53 740.40L957.57 437.80M699.83 740.40L962.87 437.80M705.13 740.40L968.17 437.80M710.43 740.40L973.47 437.80M715.73 740.40L978.78 437.80M721.03 740.40L984.08 437.80M726.33 740.40L989.38 437.80M731.63 740.40L994.68 437.80M736.93 740.40L999.98 437.80M742.23 740.40L1005.28 437.80M747.53 740.40L1010.58 437.80M752.83 740.40L1015.88 437.80M758.13 740.40L1021.18 437.80M763.43 740.40L1026.48 437.80M768.73 740.40L1031.78 437.80M774.03 740.40L1037.08 437.80M779.33 740.40L1042.38 437.80M784.63 740.40L1047.68 437.80M789.93 740.40L1052.98 437.80M795.23 740.40L1058.28 437.80M800.53 740.40L1063.58 437.80M805.83 740.40L1068.88 437.80M811.13 740.40L1074.18 437.80M816.43 740.40L1079.48 437.80M821.73 740.40L1084.78 437.80M827.03 740.40L1090.08 437.80M832.33 740.40L1095.38 437.80M837.63 740.40L1100.68 437.80M842.93 740.40L1105.98 437.80M848.23 740.40L1111.28 437.80M853.53 740.40L1116.58 437.80M858.83 740.40L1121.88 437.80M864.13 740.40L1127.18 437.80M869.43 740.40L1132.48 437.80M874.73 740.40L1137.78 437.80M880.03 740.40L1143.08 437.80M885.33 740.40L1148.38 437.80M890.63 740.40L1153.68 437.80M895.93 740.40L1158.98 437.80M901.23 740.40L1164.28 437.80M906.53 740.40L1169.58 437.80M911.83 740.40L1174.88 437.80M917.13 740.40L1180.18 437.80M922.43 740.40L1185.48 437.80M927.73 740.40L1190.78 437.80M933.03 740.40L1196.08 437.80M938.33 740.40L1201.38 437.80M943.63 740.40L1206.68 437.80M948.93 740.40L1211.98 437.80M954.23 740.40L1217.28 437.80M959.53 740.40L1222.58 437.80M964.83 740.40L1227.88 437.80M970.13 740.40L1233.18 437.80M975.43 740.40L1238.48 437.80M980.73 740.40L1243.78 437.80M986.03 740.40L1249.08 437.80M991.33 740.40L1254.38 437.80M996.63 740.40L1259.68 437.80M1001.93 740.40L1264.98 437.80M1007.23 740.40L1270.28 437.80M1012.53 740.40L1275.58 437.80M1017.83 740.40L1280.88 437.80M1023.13 740.40L1286.18 437.80M1028.43 740.40L1291.48 437.80M1033.73 740.40L1292.50 442.72M1039.03 740.40L1292.50 448.82M1044.33 740.40L1292.50 454.92M1049.63 740.40L1292.50 461.01M1054.93 740.40L1292.50 467.11M1060.23 740.40L1292.50 473.21M1065.53 740.40L1292.50 479.30M1070.83 740.40L1292.50 485.40M1076.13 740.40L1292.50 491.50M1081.43 740.40L1292.50 497.59M1086.73 740.40L1292.50 503.69M1092.03 740.40L1292.50 509.79M1097.33 740.40L1292.50 515.89M1102.63 740.40L1292.50 521.98M1107.93 740.40L1292.50 528.08M1113.23 740.40L1292.50 534.18M1118.53 740.40L1292.50 540.27M1123.83 740.40L1292.50 546.37M1129.13 740.40L1292.50 552.47M1134.43 740.40L1292.50 558.56M1139.73 740.40L1292.50 564.66M1145.03 740.40L1292.50 570.76M1150.33 740.40L1292.50 576.86M1155.63 740.40L1292.50 582.95M1160.93 740.40L1292.50 589.05M1166.23 740.40L1292.50 595.15M1171.53 740.40L1292.50 601.24M1176.83 740.40L1292.50 607.34M1182.13 740.40L1292.50 613.44M1187.43 740.40L1292.50 619.53M1192.73 740.40L1292.50 625.63M1198.03 740.40L1292.50 631.73M1203.33 740.40L1292.50 637.83M1208.63 740.40L1292.50 643.92M1213.93 740.40L1292.50 650.02M1219.23 740.40L1292.50 656.12M1224.53 740.40L1292.50 662.21M1229.83 740.40L1292.50 668.31M1235.13 740.40L1292.50 674.41M1240.43 740.40L1292.50 680.50M1245.73 740.40L1292.50 686.60M1251.03 740.40L1292.50 692.70M1256.33 740.40L1292.50 698.80M1261.63 740.40L1292.50 704.89M1266.93 740.40L1292.50 710.99M1272.23 740.40L1292.50 717.09M1277.53 740.40L1292.50 723.18M1282.83 740.40L1292.50 729.28M1288.13 740.40L1292.50 735.38" stroke="#e5e8eb" stroke-width="1.0" fill="none" clip-path="url(#cl3)"/>
<path d="M85.80 437.80 L1216.50 437.80 Q1292.50 437.80 1292.50 513.80 L1292.50 664.40 Q1292.50 740.40 1216.50 740.40 L85.80 740.40 Q9.80 740.40 9.80 664.40 L9.80 513.80 Q9.80 437.80 85.80 437.80 Z" fill="none" stroke="#8a8d91" stroke-width="1.6"/>
<rect x="36.3" y="465.1" width="40.6" height="40.6" fill="#ffffff" clip-path="url(#cl4)"/>
<path d="M36.30 466.07L37.15 465.10M36.30 472.17L42.45 465.10M36.30 478.27L47.75 465.10M36.30 484.36L53.05 465.10M36.30 490.46L58.35 465.10M36.30 496.56L63.65 465.10M36.30 502.66L68.95 465.10M38.95 505.70L74.25 465.10M44.25 505.70L76.90 468.14M49.55 505.70L76.90 474.24M54.85 505.70L76.90 480.34M60.15 505.70L76.90 486.44M65.45 505.70L76.90 492.53M70.75 505.70L76.90 498.63M76.05 505.70L76.90 504.73M75.93 465.10L76.90 465.95M69.83 465.10L76.90 471.25M63.73 465.10L76.90 476.55M57.64 465.10L76.90 481.85M51.54 465.10L76.90 487.15M45.44 465.10L76.90 492.45M39.34 465.10L76.90 497.75M36.30 467.75L76.90 503.05M36.30 473.05L73.86 505.70M36.30 478.35L67.76 505.70M36.30 483.65L61.66 505.70M36.30 488.95L55.56 505.70M36.30 494.25L49.47 505.70M36.30 499.55L43.37 505.70M36.30 504.85L37.27 505.70" stroke="#d0d4de" stroke-width="1.4" fill="none" clip-path="url(#cl4)"/>
<circle cx="56.6" cy="485.4" r="20.3" fill="none" stroke="#e67700" stroke-width="2" stroke-dasharray="8 9"/>
<text x="51.4" y="491.3" font-size="21" fill="#e67700" font-weight="normal" textLength="11.3" lengthAdjust="spacingAndGlyphs" stroke="#e67700" stroke-width="0.5">7</text>
<text x="91.9" y="489.6" font-size="19" fill="#e67700" font-weight="normal" textLength="483.1" lengthAdjust="spacingAndGlyphs">videoTransceiver.sender.replaceTrack(videoTrack)</text>
<rect x="32.1" y="522.8" width="174.5" height="71.8" fill="#ffffff"/>
<path d="M32.10 524.94L33.96 522.80M32.10 531.03L39.26 522.80M32.10 537.13L44.56 522.80M32.10 543.23L49.86 522.80M32.10 549.32L55.16 522.80M32.10 555.42L60.46 522.80M32.10 561.52L65.76 522.80M32.10 567.61L71.06 522.80M32.10 573.71L76.36 522.80M32.10 579.81L81.66 522.80M32.10 585.91L86.96 522.80M32.10 592.00L92.26 522.80M35.14 594.60L97.56 522.80M40.44 594.60L102.86 522.80M45.74 594.60L108.16 522.80M51.04 594.60L113.46 522.80M56.34 594.60L118.76 522.80M61.64 594.60L124.06 522.80M66.94 594.60L129.36 522.80M72.24 594.60L134.66 522.80M77.54 594.60L139.96 522.80M82.84 594.60L145.26 522.80M88.14 594.60L150.56 522.80M93.44 594.60L155.86 522.80M98.74 594.60L161.16 522.80M104.04 594.60L166.46 522.80M109.34 594.60L171.76 522.80M114.64 594.60L177.06 522.80M119.94 594.60L182.36 522.80M125.24 594.60L187.66 522.80M130.54 594.60L192.96 522.80M135.84 594.60L198.26 522.80M141.14 594.60L203.56 522.80M146.44 594.60L206.60 525.40M151.74 594.60L206.60 531.49M157.04 594.60L206.60 537.59M162.34 594.60L206.60 543.69M167.64 594.60L206.60 549.79M172.94 594.60L206.60 555.88M178.24 594.60L206.60 561.98M183.54 594.60L206.60 568.08M188.84 594.60L206.60 574.17M194.14 594.60L206.60 580.27M199.44 594.60L206.60 586.37M204.74 594.60L206.60 592.46M206.09 522.80L206.60 523.24M199.99 522.80L206.60 528.54M193.90 522.80L206.60 533.84M187.80 522.80L206.60 539.14M181.70 522.80L206.60 544.44M175.60 522.80L206.60 549.74M169.51 522.80L206.60 555.04M163.41 522.80L206.60 560.34M157.31 522.80L206.60 565.64M151.22 522.80L206.60 570.94M145.12 522.80L206.60 576.24M139.02 522.80L206.60 581.54M132.92 522.80L206.60 586.84M126.83 522.80L206.60 592.14M120.73 522.80L203.33 594.60M114.63 522.80L197.23 594.60M108.54 522.80L191.13 594.60M102.44 522.80L185.04 594.60M96.34 522.80L178.94 594.60M90.25 522.80L172.84 594.60M84.15 522.80L166.75 594.60M78.05 522.80L160.65 594.60M71.95 522.80L154.55 594.60M65.86 522.80L148.45 594.60M59.76 522.80L142.36 594.60M53.66 522.80L136.26 594.60M47.57 522.80L130.16 594.60M41.47 522.80L124.07 594.60M35.37 522.80L117.97 594.60M32.10 525.26L111.87 594.60M32.10 530.56L105.78 594.60M32.10 535.86L99.68 594.60M32.10 541.16L93.58 594.60M32.10 546.46L87.48 594.60M32.10 551.76L81.39 594.60M32.10 557.06L75.29 594.60M32.10 562.36L69.19 594.60M32.10 567.66L63.10 594.60M32.10 572.96L57.00 594.60M32.10 578.26L50.90 594.60M32.10 583.56L44.80 594.60M32.10 588.86L38.71 594.60M32.10 594.16L32.61 594.60" stroke="#88cd34" stroke-width="1.3" fill="none"/>
<rect x="32.1" y="522.8" width="174.5" height="71.8" fill="none" stroke="#5f9e12" stroke-width="1.7" stroke-dasharray="8 9"/>
<text x="85.1" y="565.0" font-size="18" fill="#4f8c0b" font-weight="normal" textLength="69.1" lengthAdjust="spacingAndGlyphs" stroke="#4f8c0b" stroke-width="0.3">Stream</text>
<rect x="278.7" y="512.8" width="139.5" height="38.2" fill="#ffffff"/>
<path d="M278.70 514.59L280.25 512.80M278.70 520.68L285.55 512.80M278.70 526.78L290.85 512.80M278.70 532.88L296.15 512.80M278.70 538.97L301.45 512.80M278.70 545.07L306.75 512.80M278.85 551.00L312.05 512.80M284.15 551.00L317.35 512.80M289.45 551.00L322.65 512.80M294.75 551.00L327.95 512.80M300.05 551.00L333.25 512.80M305.35 551.00L338.55 512.80M310.65 551.00L343.85 512.80M315.95 551.00L349.15 512.80M321.25 551.00L354.45 512.80M326.55 551.00L359.75 512.80M331.85 551.00L365.05 512.80M337.15 551.00L370.35 512.80M342.45 551.00L375.65 512.80M347.75 551.00L380.95 512.80M353.05 551.00L386.25 512.80M358.35 551.00L391.55 512.80M363.65 551.00L396.85 512.80M368.95 551.00L402.15 512.80M374.25 551.00L407.45 512.80M379.55 551.00L412.75 512.80M384.85 551.00L418.05 512.80M390.15 551.00L418.20 518.73M395.45 551.00L418.20 524.83M400.75 551.00L418.20 530.92M406.05 551.00L418.20 537.02M411.35 551.00L418.20 543.12M416.65 551.00L418.20 549.21M417.93 512.80L418.20 513.03M411.84 512.80L418.20 518.33M405.74 512.80L418.20 523.63M399.64 512.80L418.20 528.93M393.55 512.80L418.20 534.23M387.45 512.80L418.20 539.53M381.35 512.80L418.20 544.83M375.25 512.80L418.20 550.13M369.16 512.80L413.10 551.00M363.06 512.80L407.00 551.00M356.96 512.80L400.91 551.00M350.87 512.80L394.81 551.00M344.77 512.80L388.71 551.00M338.67 512.80L382.62 551.00M332.57 512.80L376.52 551.00M326.48 512.80L370.42 551.00M320.38 512.80L364.33 551.00M314.28 512.80L358.23 551.00M308.19 512.80L352.13 551.00M302.09 512.80L346.03 551.00M295.99 512.80L339.94 551.00M289.90 512.80L333.84 551.00M283.80 512.80L327.74 551.00M278.70 513.67L321.65 551.00M278.70 518.97L315.55 551.00M278.70 524.27L309.45 551.00M278.70 529.57L303.35 551.00M278.70 534.87L297.26 551.00M278.70 540.17L291.16 551.00M278.70 545.47L285.06 551.00M278.70 550.77L278.97 551.00" stroke="#88cd34" stroke-width="1.3" fill="none"/>
<rect x="278.7" y="512.8" width="139.5" height="38.2" fill="none" stroke="#5f9e12" stroke-width="1.7" stroke-dasharray="8 9"/>
<text x="288.3" y="537.5" font-size="18" fill="#4f8c0b" font-weight="normal" textLength="119.5" lengthAdjust="spacingAndGlyphs" stroke="#4f8c0b" stroke-width="0.3">Audio Track</text>
<rect x="280.8" y="566.8" width="140.2" height="38.2" fill="#ffffff"/>
<path d="M280.80 568.99L282.70 566.80M280.80 575.09L288.00 566.80M280.80 581.18L293.30 566.80M280.80 587.28L298.60 566.80M280.80 593.38L303.90 566.80M280.80 599.47L309.20 566.80M281.30 605.00L314.50 566.80M286.60 605.00L319.80 566.80M291.90 605.00L325.10 566.80M297.20 605.00L330.40 566.80M302.50 605.00L335.70 566.80M307.80 605.00L341.00 566.80M313.10 605.00L346.30 566.80M318.40 605.00L351.60 566.80M323.70 605.00L356.90 566.80M329.00 605.00L362.20 566.80M334.30 605.00L367.50 566.80M339.60 605.00L372.80 566.80M344.90 605.00L378.10 566.80M350.20 605.00L383.40 566.80M355.50 605.00L388.70 566.80M360.80 605.00L394.00 566.80M366.10 605.00L399.30 566.80M371.40 605.00L404.60 566.80M376.70 605.00L409.90 566.80M382.00 605.00L415.20 566.80M387.30 605.00L420.50 566.80M392.60 605.00L421.00 572.33M397.90 605.00L421.00 578.42M403.20 605.00L421.00 584.52M408.50 605.00L421.00 590.62M413.80 605.00L421.00 596.71M419.10 605.00L421.00 602.81M420.38 566.80L421.00 567.34M414.29 566.80L421.00 572.64M408.19 566.80L421.00 577.94M402.09 566.80L421.00 583.24M396.00 566.80L421.00 588.54M389.90 566.80L421.00 593.84M383.80 566.80L421.00 599.14M377.70 566.80L421.00 604.44M371.61 566.80L415.55 605.00M365.51 566.80L409.45 605.00M359.41 566.80L403.36 605.00M353.32 566.80L397.26 605.00M347.22 566.80L391.16 605.00M341.12 566.80L385.07 605.00M335.02 566.80L378.97 605.00M328.93 566.80L372.87 605.00M322.83 566.80L366.78 605.00M316.73 566.80L360.68 605.00M310.64 566.80L354.58 605.00M304.54 566.80L348.48 605.00M298.44 566.80L342.39 605.00M292.35 566.80L336.29 605.00M286.25 566.80L330.19 605.00M280.80 567.36L324.10 605.00M280.80 572.66L318.00 605.00M280.80 577.96L311.90 605.00M280.80 583.26L305.80 605.00M280.80 588.56L299.71 605.00M280.80 593.86L293.61 605.00M280.80 599.16L287.51 605.00M280.80 604.46L281.42 605.00" stroke="#88cd34" stroke-width="1.3" fill="none"/>
<rect x="280.8" y="566.8" width="140.2" height="38.2" fill="none" stroke="#5f9e12" stroke-width="1.7" stroke-dasharray="8 9"/>
<text x="292.0" y="591.0" font-size="18" fill="#4f8c0b" font-weight="normal" textLength="115.5" lengthAdjust="spacingAndGlyphs" stroke="#4f8c0b" stroke-width="0.3">Video Track</text>
<line x1="215.0" y1="547.4" x2="270.9" y2="542.1" stroke="#5f9e12" stroke-width="1.4" stroke-linecap="round"/>
<line x1="217.2" y1="556.2" x2="272.7" y2="578.1" stroke="#5f9e12" stroke-width="1.4" stroke-linecap="round"/>
<line x1="427.0" y1="539.3" x2="464.5" y2="545.0" stroke="#5f9e12" stroke-width="1.4" stroke-linecap="round"/>
<line x1="429.9" y1="586.3" x2="468.8" y2="562.2" stroke="#5f9e12" stroke-width="1.4" stroke-linecap="round"/>
<rect x="471.4" y="519.0" width="177.3" height="61.9" fill="#ffffff"/>
<path d="M471.40 523.89L475.65 519.00M471.40 529.99L480.95 519.00M471.40 536.09L486.25 519.00M471.40 542.18L491.55 519.00M471.40 548.28L496.85 519.00M471.40 554.38L502.15 519.00M471.40 560.47L507.45 519.00M471.40 566.57L512.75 519.00M471.40 572.67L518.05 519.00M471.40 578.77L523.35 519.00M474.85 580.90L528.65 519.00M480.15 580.90L533.95 519.00M485.45 580.90L539.25 519.00M490.75 580.90L544.55 519.00M496.05 580.90L549.85 519.00M501.35 580.90L555.15 519.00M506.65 580.90L560.45 519.00M511.95 580.90L565.75 519.00M517.25 580.90L571.05 519.00M522.55 580.90L576.35 519.00M527.85 580.90L581.65 519.00M533.15 580.90L586.95 519.00M538.45 580.90L592.25 519.00M543.75 580.90L597.55 519.00M549.05 580.90L602.85 519.00M554.35 580.90L608.15 519.00M559.65 580.90L613.45 519.00M564.95 580.90L618.75 519.00M570.25 580.90L624.05 519.00M575.55 580.90L629.35 519.00M580.85 580.90L634.65 519.00M586.15 580.90L639.95 519.00M591.45 580.90L645.25 519.00M596.75 580.90L648.70 521.13M602.05 580.90L648.70 527.23M607.35 580.90L648.70 533.33M612.65 580.90L648.70 539.43M617.95 580.90L648.70 545.52M623.25 580.90L648.70 551.62M628.55 580.90L648.70 557.72M633.85 580.90L648.70 563.81M639.15 580.90L648.70 569.91M644.45 580.90L648.70 576.01M646.39 519.00L648.70 521.01M640.29 519.00L648.70 526.31M634.19 519.00L648.70 531.61M628.10 519.00L648.70 536.91M622.00 519.00L648.70 542.21M615.90 519.00L648.70 547.51M609.80 519.00L648.70 552.81M603.71 519.00L648.70 558.11M597.61 519.00L648.70 563.41M591.51 519.00L648.70 568.71M585.42 519.00L648.70 574.01M579.32 519.00L648.70 579.31M573.22 519.00L644.43 580.90M567.13 519.00L638.33 580.90M561.03 519.00L632.24 580.90M554.93 519.00L626.14 580.90M548.83 519.00L620.04 580.90M542.74 519.00L613.94 580.90M536.64 519.00L607.85 580.90M530.54 519.00L601.75 580.90M524.45 519.00L595.65 580.90M518.35 519.00L589.56 580.90M512.25 519.00L583.46 580.90M506.16 519.00L577.36 580.90M500.06 519.00L571.27 580.90M493.96 519.00L565.17 580.90M487.86 519.00L559.07 580.90M481.77 519.00L552.97 580.90M475.67 519.00L546.88 580.90M471.40 520.59L540.78 580.90M471.40 525.89L534.68 580.90M471.40 531.19L528.59 580.90M471.40 536.49L522.49 580.90M471.40 541.79L516.39 580.90M471.40 547.09L510.30 580.90M471.40 552.39L504.20 580.90M471.40 557.69L498.10 580.90M471.40 562.99L492.00 580.90M471.40 568.29L485.91 580.90M471.40 573.59L479.81 580.90M471.40 578.89L473.71 580.90" stroke="#fb8b2c" stroke-width="1.2" fill="none"/>
<rect x="471.4" y="519.0" width="177.3" height="61.9" fill="none" stroke="#e67700" stroke-width="1.7" stroke-dasharray="8 9"/>
<text x="489.0" y="556.5" font-size="18.5" fill="#de6a00" font-weight="normal" textLength="142.3" lengthAdjust="spacingAndGlyphs" stroke="#de6a00" stroke-width="0.3">PeerConnection</text>
<rect x="707.2" y="518.3" width="178.1" height="61.5" fill="#ffffff"/>
<path d="M707.20 523.45L711.68 518.30M707.20 529.55L716.98 518.30M707.20 535.65L722.28 518.30M707.20 541.74L727.58 518.30M707.20 547.84L732.88 518.30M707.20 553.94L738.18 518.30M707.20 560.04L743.48 518.30M707.20 566.13L748.78 518.30M707.20 572.23L754.08 518.30M707.20 578.33L759.38 518.30M711.22 579.80L764.68 518.30M716.52 579.80L769.98 518.30M721.82 579.80L775.28 518.30M727.12 579.80L780.58 518.30M732.42 579.80L785.88 518.30M737.72 579.80L791.18 518.30M743.02 579.80L796.48 518.30M748.32 579.80L801.78 518.30M753.62 579.80L807.08 518.30M758.92 579.80L812.38 518.30M764.22 579.80L817.68 518.30M769.52 579.80L822.98 518.30M774.82 579.80L828.28 518.30M780.12 579.80L833.58 518.30M785.42 579.80L838.88 518.30M790.72 579.80L844.18 518.30M796.02 579.80L849.48 518.30M801.32 579.80L854.78 518.30M806.62 579.80L860.08 518.30M811.92 579.80L865.38 518.30M817.22 579.80L870.68 518.30M822.52 579.80L875.98 518.30M827.82 579.80L881.28 518.30M833.12 579.80L885.30 519.77M838.42 579.80L885.30 525.87M843.72 579.80L885.30 531.97M849.02 579.80L885.30 538.06M854.32 579.80L885.30 544.16M859.62 579.80L885.30 550.26M864.92 579.80L885.30 556.36M870.22 579.80L885.30 562.45M875.52 579.80L885.30 568.55M880.82 579.80L885.30 574.65M882.82 518.30L885.30 520.46M876.72 518.30L885.30 525.76M870.62 518.30L885.30 531.06M864.53 518.30L885.30 536.36M858.43 518.30L885.30 541.66M852.33 518.30L885.30 546.96M846.23 518.30L885.30 552.26M840.14 518.30L885.30 557.56M834.04 518.30L885.30 562.86M827.94 518.30L885.30 568.16M821.85 518.30L885.30 573.46M815.75 518.30L885.30 578.76M809.65 518.30L880.40 579.80M803.56 518.30L874.30 579.80M797.46 518.30L868.21 579.80M791.36 518.30L862.11 579.80M785.26 518.30L856.01 579.80M779.17 518.30L849.91 579.80M773.07 518.30L843.82 579.80M766.97 518.30L837.72 579.80M760.88 518.30L831.62 579.80M754.78 518.30L825.53 579.80M748.68 518.30L819.43 579.80M742.59 518.30L813.33 579.80M736.49 518.30L807.24 579.80M730.39 518.30L801.14 579.80M724.29 518.30L795.04 579.80M718.20 518.30L788.94 579.80M712.10 518.30L782.85 579.80M707.20 519.34L776.75 579.80M707.20 524.64L770.65 579.80M707.20 529.94L764.56 579.80M707.20 535.24L758.46 579.80M707.20 540.54L752.36 579.80M707.20 545.84L746.27 579.80M707.20 551.14L740.17 579.80M707.20 556.44L734.07 579.80M707.20 561.74L727.97 579.80M707.20 567.04L721.88 579.80M707.20 572.34L715.78 579.80M707.20 577.64L709.68 579.80" stroke="#fb8b2c" stroke-width="1.2" fill="none"/>
<rect x="707.2" y="518.3" width="178.1" height="61.5" fill="none" stroke="#e67700" stroke-width="1.7" stroke-dasharray="8 9"/>
<text x="723.0" y="555.5" font-size="18.5" fill="#de6a00" font-weight="normal" textLength="145.5" lengthAdjust="spacingAndGlyphs" stroke="#de6a00" stroke-width="0.3">PeerConnection</text>
<line x1="664.0" y1="536.0" x2="692.0" y2="536.0" stroke="#e67700" stroke-width="2" stroke-linecap="round" stroke-dasharray="9 7"/>
<path d="M648.5,536.0 L664.0,529.5 L664.0,542.5 Z" fill="#e67700" stroke="#e67700" stroke-width="1.5" stroke-linejoin="round"/>
<path d="M706.6,536.0 L692.0,528.8 L692.0,543.2 Z" fill="#e67700" stroke="#e67700" stroke-width="1.5" stroke-linejoin="round"/>
<line x1="661.0" y1="565.0" x2="691.0" y2="565.0" stroke="#e67700" stroke-width="2" stroke-linecap="round" stroke-dasharray="9 7"/>
<path d="M645.7,565.0 L661.0,558.5 L661.0,571.5 Z" fill="#e67700" stroke="#e67700" stroke-width="1.5" stroke-linejoin="round"/>
<path d="M706.0,565.0 L691.0,557.8 L691.0,572.2 Z" fill="#e67700" stroke="#e67700" stroke-width="1.5" stroke-linejoin="round"/>
<text x="599.3" y="606.8" font-size="19" fill="#9a9a9a" font-weight="normal" textLength="45.3" lengthAdjust="spacingAndGlyphs">local</text>
<text x="709.4" y="606.0" font-size="19" fill="#9a9a9a" font-weight="normal" textLength="67.7" lengthAdjust="spacingAndGlyphs">remote</text>
<line x1="698.0" y1="583.0" x2="698.0" y2="658.0" stroke="#8f9fe0" stroke-width="1.3" stroke-linecap="round" stroke-dasharray="8.5 8.5"/>
<line x1="886.0" y1="550.5" x2="955.6" y2="551.4" stroke="#7cc230" stroke-width="1.2" stroke-linecap="round"/>
<line x1="886.0" y1="552.0" x2="955.6" y2="552.3" stroke="#6aae1c" stroke-width="1.2" stroke-linecap="round"/>
<rect x="958.6" y="497.3" width="318.3" height="90.6" fill="none" stroke="#8f9fe0" stroke-width="1.3" stroke-dasharray="8.5 8.5"/>
<text x="973.3" y="521.9" font-size="18" fill="#1f5fae" font-weight="normal" textLength="70.1" lengthAdjust="spacingAndGlyphs">Stream</text>
<rect x="971.4" y="537.0" width="139.2" height="37.1" fill="#ffffff"/>
<path d="M971.40 538.06L972.32 537.00M971.40 544.16L977.62 537.00M971.40 550.26L982.92 537.00M971.40 556.35L988.22 537.00M971.40 562.45L993.52 537.00M971.40 568.55L998.82 537.00M971.87 574.10L1004.12 537.00M977.17 574.10L1009.42 537.00M982.47 574.10L1014.72 537.00M987.77 574.10L1020.02 537.00M993.07 574.10L1025.32 537.00M998.37 574.10L1030.63 537.00M1003.67 574.10L1035.93 537.00M1008.97 574.10L1041.23 537.00M1014.27 574.10L1046.53 537.00M1019.57 574.10L1051.83 537.00M1024.87 574.10L1057.13 537.00M1030.17 574.10L1062.43 537.00M1035.47 574.10L1067.73 537.00M1040.77 574.10L1073.03 537.00M1046.07 574.10L1078.33 537.00M1051.37 574.10L1083.63 537.00M1056.68 574.10L1088.93 537.00M1061.98 574.10L1094.23 537.00M1067.28 574.10L1099.53 537.00M1072.58 574.10L1104.83 537.00M1077.88 574.10L1110.13 537.00M1083.18 574.10L1110.60 542.55M1088.48 574.10L1110.60 548.65M1093.78 574.10L1110.60 554.75M1099.08 574.10L1110.60 560.84M1104.38 574.10L1110.60 566.94M1109.68 574.10L1110.60 573.04M1105.02 537.00L1110.60 541.85M1098.92 537.00L1110.60 547.15M1092.82 537.00L1110.60 552.45M1086.73 537.00L1110.60 557.75M1080.63 537.00L1110.60 563.05M1074.53 537.00L1110.60 568.35M1068.44 537.00L1110.60 573.65M1062.34 537.00L1105.02 574.10M1056.24 537.00L1098.92 574.10M1050.15 537.00L1092.82 574.10M1044.05 537.00L1086.73 574.10M1037.95 537.00L1080.63 574.10M1031.85 537.00L1074.53 574.10M1025.76 537.00L1068.44 574.10M1019.66 537.00L1062.34 574.10M1013.56 537.00L1056.24 574.10M1007.47 537.00L1050.15 574.10M1001.37 537.00L1044.05 574.10M995.27 537.00L1037.95 574.10M989.18 537.00L1031.85 574.10M983.08 537.00L1025.76 574.10M976.98 537.00L1019.66 574.10M971.40 537.45L1013.56 574.10M971.40 542.75L1007.47 574.10M971.40 548.05L1001.37 574.10M971.40 553.35L995.27 574.10M971.40 558.65L989.18 574.10M971.40 563.95L983.08 574.10M971.40 569.25L976.98 574.10" stroke="#88cd34" stroke-width="1.3" fill="none"/>
<rect x="971.4" y="537.0" width="139.2" height="37.1" fill="none" stroke="#5f9e12" stroke-width="1.7" stroke-dasharray="8 9"/>
<text x="982.4" y="561.0" font-size="18" fill="#4f8c0b" font-weight="normal" textLength="116.9" lengthAdjust="spacingAndGlyphs" stroke="#4f8c0b" stroke-width="0.3">Video Track</text>
<rect x="1125.5" y="537.5" width="139.1" height="36.6" fill="#ffffff"/>
<path d="M1125.50 538.26L1126.16 537.50M1125.50 544.35L1131.46 537.50M1125.50 550.45L1136.76 537.50M1125.50 556.55L1142.06 537.50M1125.50 562.64L1147.36 537.50M1125.50 568.74L1152.66 537.50M1126.14 574.10L1157.96 537.50M1131.44 574.10L1163.26 537.50M1136.74 574.10L1168.56 537.50M1142.04 574.10L1173.86 537.50M1147.34 574.10L1179.16 537.50M1152.64 574.10L1184.46 537.50M1157.94 574.10L1189.76 537.50M1163.24 574.10L1195.06 537.50M1168.54 574.10L1200.36 537.50M1173.84 574.10L1205.66 537.50M1179.14 574.10L1210.96 537.50M1184.44 574.10L1216.26 537.50M1189.74 574.10L1221.56 537.50M1195.04 574.10L1226.86 537.50M1200.34 574.10L1232.16 537.50M1205.64 574.10L1237.46 537.50M1210.94 574.10L1242.76 537.50M1216.24 574.10L1248.06 537.50M1221.54 574.10L1253.36 537.50M1226.84 574.10L1258.66 537.50M1232.14 574.10L1263.96 537.50M1237.44 574.10L1264.60 542.86M1242.74 574.10L1264.60 548.96M1248.04 574.10L1264.60 555.05M1253.34 574.10L1264.60 561.15M1258.64 574.10L1264.60 567.25M1263.94 574.10L1264.60 573.34M1259.36 537.50L1264.60 542.06M1253.26 537.50L1264.60 547.36M1247.16 537.50L1264.60 552.66M1241.07 537.50L1264.60 557.96M1234.97 537.50L1264.60 563.26M1228.87 537.50L1264.60 568.56M1222.77 537.50L1264.60 573.86M1216.68 537.50L1258.78 574.10M1210.58 537.50L1252.68 574.10M1204.48 537.50L1246.59 574.10M1198.39 537.50L1240.49 574.10M1192.29 537.50L1234.39 574.10M1186.19 537.50L1228.30 574.10M1180.10 537.50L1222.20 574.10M1174.00 537.50L1216.10 574.10M1167.90 537.50L1210.00 574.10M1161.80 537.50L1203.91 574.10M1155.71 537.50L1197.81 574.10M1149.61 537.50L1191.71 574.10M1143.51 537.50L1185.62 574.10M1137.42 537.50L1179.52 574.10M1131.32 537.50L1173.42 574.10M1125.50 537.74L1167.33 574.10M1125.50 543.04L1161.23 574.10M1125.50 548.34L1155.13 574.10M1125.50 553.64L1149.03 574.10M1125.50 558.94L1142.94 574.10M1125.50 564.24L1136.84 574.10M1125.50 569.54L1130.74 574.10" stroke="#88cd34" stroke-width="1.3" fill="none"/>
<rect x="1125.5" y="537.5" width="139.1" height="36.6" fill="none" stroke="#5f9e12" stroke-width="1.7" stroke-dasharray="8 9"/>
<text x="1135.8" y="561.0" font-size="18" fill="#4f8c0b" font-weight="normal" textLength="118.9" lengthAdjust="spacingAndGlyphs" stroke="#4f8c0b" stroke-width="0.3">Audio Track</text>
<line x1="1040.4" y1="575.0" x2="1040.4" y2="678.0" stroke="#5f9e12" stroke-width="2" stroke-linecap="round" stroke-dasharray="8 9"/>
<path d="M1029.6,650.4 L1040.2,679.6 L1051,650.4" fill="none" stroke="#5f9e12" stroke-width="1.8" stroke-linecap="round" stroke-linejoin="round"/>
<rect x="986.9" y="639.1" width="41.0" height="41.0" fill="#ffffff" clip-path="url(#cl5)"/>
<path d="M986.90 640.50L988.12 639.10M986.90 646.60L993.42 639.10M986.90 652.70L998.72 639.10M986.90 658.79L1004.02 639.10M986.90 664.89L1009.32 639.10M986.90 670.99L1014.62 639.10M986.90 677.09L1019.92 639.10M989.58 680.10L1025.22 639.10M994.88 680.10L1027.90 642.11M1000.18 680.10L1027.90 648.21M1005.48 680.10L1027.90 654.31M1010.78 680.10L1027.90 660.41M1016.08 680.10L1027.90 666.50M1021.38 680.10L1027.90 672.60M1026.68 680.10L1027.90 678.70M1026.50 639.10L1027.90 640.32M1020.40 639.10L1027.90 645.62M1014.30 639.10L1027.90 650.92M1008.21 639.10L1027.90 656.22M1002.11 639.10L1027.90 661.52M996.01 639.10L1027.90 666.82M989.91 639.10L1027.90 672.12M986.90 641.78L1027.90 677.42M986.90 647.08L1024.89 680.10M986.90 652.38L1018.79 680.10M986.90 657.68L1012.69 680.10M986.90 662.98L1006.59 680.10M986.90 668.28L1000.50 680.10M986.90 673.58L994.40 680.10M986.90 678.88L988.30 680.10" stroke="#d0d4de" stroke-width="1.4" fill="none" clip-path="url(#cl5)"/>
<circle cx="1007.4" cy="659.6" r="20.5" fill="none" stroke="#5f9e12" stroke-width="2" stroke-dasharray="8 9"/>
<text x="1002.4" y="664.5" font-size="16" fill="#4f8c0b" font-weight="normal" textLength="9.9" lengthAdjust="spacingAndGlyphs" stroke="#4f8c0b" stroke-width="0.2">8</text>
<text x="1005.3" y="703.6" font-size="17" fill="#6aa81a" font-weight="normal" textLength="68.5" lengthAdjust="spacingAndGlyphs">unmute</text>
<rect x="585.4" y="658.4" width="146.4" height="61.5" fill="none" stroke="#8f9fe0" stroke-width="1.3" stroke-dasharray="8.5 8.5"/>
<text x="586.2" y="653.5" font-size="20" fill="#8f9fe0" font-weight="normal" textLength="65.0" lengthAdjust="spacingAndGlyphs">Sender</text>
<text x="591.4" y="693.8" font-size="19" fill="#8f9fe0" font-weight="normal" textLength="58.8" lengthAdjust="spacingAndGlyphs">track:</text>
<rect x="663.0" y="675.2" width="50.8" height="30.3" fill="#ffffff"/>
<path d="M663.00 676.89L664.47 675.20M663.00 682.99L669.77 675.20M663.00 689.08L675.07 675.20M663.00 695.18L680.37 675.20M663.00 701.28L685.67 675.20M664.63 705.50L690.97 675.20M669.93 705.50L696.27 675.20M675.23 705.50L701.57 675.20M680.53 705.50L706.87 675.20M685.83 705.50L712.17 675.20M691.13 705.50L713.80 679.42M696.43 705.50L713.80 685.52M701.73 705.50L713.80 691.62M707.03 705.50L713.80 697.71M712.33 705.50L713.80 703.81M713.65 675.20L713.80 675.33M707.55 675.20L713.80 680.63M701.46 675.20L713.80 685.93M695.36 675.20L713.80 691.23M689.26 675.20L713.80 696.53M683.17 675.20L713.80 701.83M677.07 675.20L711.93 705.50M670.97 675.20L705.83 705.50M664.87 675.20L699.73 705.50M663.00 678.87L693.63 705.50M663.00 684.17L687.54 705.50M663.00 689.47L681.44 705.50M663.00 694.77L675.34 705.50M663.00 700.07L669.25 705.50M663.00 705.37L663.15 705.50" stroke="#88cd34" stroke-width="1.3" fill="none"/>
<rect x="663.0" y="675.2" width="50.8" height="30.3" fill="none" stroke="#5f9e12" stroke-width="1.7" stroke-dasharray="8 9"/>
<text x="668.4" y="695.3" font-size="14" fill="#4f8c0b" font-weight="normal" textLength="40.9" lengthAdjust="spacingAndGlyphs" stroke="#4f8c0b" stroke-width="0.3">Video</text>
</svg></body></html>
